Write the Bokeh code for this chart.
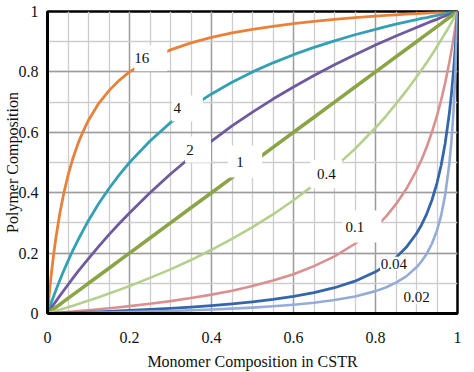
from bokeh.plotting import figure
from bokeh.models import ColumnDataSource, FixedTicker
from bokeh.embed import file_html
from bokeh.resources import INLINE
from bokeh.core.properties import value

# ---- data ----
monomer_x = [0, 0.005, 0.01, 0.015, 0.02, 0.03, 0.04, 0.05, 0.0625, 0.075, 0.0875, 0.1,
             0.125, 0.15, 0.175, 0.2, 0.25, 0.3, 0.35, 0.4, 0.45, 0.5, 0.55, 0.6, 0.65,
             0.7, 0.75, 0.8, 0.825, 0.85, 0.875, 0.9, 0.9125, 0.925, 0.9375, 0.95, 0.96,
             0.97, 0.98, 0.985, 0.99, 0.995, 1]
poly_16 = [0, 0.074, 0.139, 0.196, 0.246, 0.331, 0.4, 0.457, 0.516, 0.565, 0.605, 0.64,
           0.696, 0.738, 0.772, 0.8, 0.842, 0.873, 0.896, 0.914, 0.929, 0.941, 0.951, 0.96,
           0.967, 0.974, 0.98, 0.985, 0.987, 0.989, 0.991, 0.993, 0.994, 0.995, 0.996,
           0.997, 0.997, 0.998, 0.999, 0.999, 0.999, 1.0, 1]
poly_4 = [0, 0.0197, 0.0388, 0.0574, 0.0755, 0.11, 0.143, 0.174, 0.211, 0.245, 0.277, 0.308,
          0.364, 0.414, 0.459, 0.5, 0.571, 0.632, 0.683, 0.727, 0.766, 0.8, 0.83, 0.857,
          0.881, 0.903, 0.923, 0.941, 0.95, 0.958, 0.966, 0.973, 0.977, 0.98, 0.984,
          0.987, 0.99, 0.992, 0.995, 0.996, 0.997, 0.999, 1]
poly_2 = [0, 0.00995, 0.0198, 0.0296, 0.0392, 0.0583, 0.0769, 0.0952, 0.118, 0.14, 0.161,
          0.182, 0.222, 0.261, 0.298, 0.333, 0.4, 0.462, 0.519, 0.571, 0.621, 0.667, 0.71,
          0.75, 0.788, 0.824, 0.857, 0.889, 0.904, 0.919, 0.933, 0.947, 0.954, 0.961,
          0.968, 0.974, 0.98, 0.985, 0.99, 0.992, 0.995, 0.9975, 1]
poly_1 = [0, 0.005, 0.01, 0.015, 0.02, 0.03, 0.04, 0.05, 0.0625, 0.075, 0.0875, 0.1,
          0.125, 0.15, 0.175, 0.2, 0.25, 0.3, 0.35, 0.4, 0.45, 0.5, 0.55, 0.6, 0.65,
          0.7, 0.75, 0.8, 0.825, 0.85, 0.875, 0.9, 0.9125, 0.925, 0.9375, 0.95, 0.96,
          0.97, 0.98, 0.985, 0.99, 0.995, 1]
poly_04 = [0, 0.002, 0.004, 0.00605, 0.0081, 0.0122, 0.0164, 0.0206, 0.026, 0.0314, 0.0369,
           0.0426, 0.0541, 0.0659, 0.0782, 0.0909, 0.118, 0.146, 0.177, 0.211, 0.247, 0.286,
           0.328, 0.375, 0.426, 0.483, 0.545, 0.615, 0.653, 0.694, 0.737, 0.783, 0.807,
           0.831, 0.857, 0.884, 0.906, 0.928, 0.951, 0.963, 0.975, 0.988, 1]
poly_01 = [0, 0.0005, 0.001, 0.0015, 0.002, 0.0031, 0.0041, 0.0052, 0.0066, 0.008, 0.0095,
           0.011, 0.0141, 0.0173, 0.0208, 0.0244, 0.0323, 0.0411, 0.0511, 0.0625, 0.0756,
           0.0909, 0.109, 0.13, 0.157, 0.189, 0.231, 0.286, 0.32, 0.362, 0.412, 0.474, 0.51,
           0.552, 0.6, 0.655, 0.706, 0.764, 0.831, 0.868, 0.908, 0.952, 1]
poly_004 = [0, 0.0002, 0.0004, 0.0006, 0.0008, 0.0012, 0.0017, 0.0021, 0.0027, 0.0032, 0.0038,
            0.0044, 0.0057, 0.007, 0.0084, 0.0099, 0.0132, 0.0169, 0.0211, 0.026, 0.0317,
            0.0385, 0.0466, 0.0566, 0.0691, 0.0854, 0.107, 0.138, 0.159, 0.185, 0.219, 0.265,
            0.294, 0.33, 0.375, 0.432, 0.49, 0.564, 0.662, 0.724, 0.798, 0.888, 1]
poly_002 = [0, 0.0001, 0.0002, 0.0003, 0.0004, 0.0006, 0.0008, 0.001, 0.0013, 0.0016, 0.0019,
            0.0022, 0.0028, 0.0035, 0.0042, 0.005, 0.0066, 0.0085, 0.0107, 0.0132, 0.0161,
            0.0196, 0.0239, 0.0291, 0.0358, 0.0446, 0.0566, 0.0741, 0.0862, 0.102, 0.123,
            0.153, 0.173, 0.198, 0.231, 0.275, 0.324, 0.393, 0.495, 0.568, 0.664, 0.799, 1]

series_labels = ["16", "4", "2", "1", "0.4", "0.1", "0.04", "0.02"]
series_values = [poly_16, poly_4, poly_2, poly_1, poly_04, poly_01, poly_004, poly_002]

# where each curve label sits (data coordinates)
label_x = [0.252, 0.341, 0.367, 0.482, 0.68, 0.767, 0.845, 0.9]
label_y = [0.845, 0.679, 0.543, 0.503, 0.462, 0.288, 0.165, 0.054]

x_ticks = [0, 0.2, 0.4, 0.6, 0.8, 1]
x_tick_labels = ["0", "0.2", "0.4", "0.6", "0.8", "1"]
y_ticks = [0, 0.2, 0.4, 0.6, 0.8, 1]
y_tick_labels = ["0", "0.2", "0.4", "0.6", "0.8", "1"]
x_title = "Monomer Composition in CSTR"
y_title = "Polymer Composition"

# ---- styles ----
colors = ["#E8823A", "#33A0B4", "#6F5A9E", "#8BA446", "#B5CF8C", "#DB9090", "#3566AA", "#95ACD8"]
widths = [2.8, 2.8, 2.8, 3.6, 2.6, 2.6, 2.8, 2.6]
box_w = [33, 31, 26, 34, 32, 39, 28, 28]
box_h = [26, 26, 26, 32, 28, 32, 14, 14]
text_dx = [-9, -10, -8, -5, 0, -7, 0, 0]
SERIF = "'Liberation Serif', 'DejaVu Serif', serif"
TICK_FONT = "Times"

p = figure(width=474, height=372, x_range=(0, 1), y_range=(0, 1),
           output_backend="svg", toolbar_location=None,
           x_axis_label=x_title, y_axis_label=y_title,
           min_border_left=42, min_border_right=17, min_border_top=11, min_border_bottom=59)
p.background_fill_color = "white"
p.border_fill_color = "white"
p.outline_line_color = "black"
p.outline_line_width = 2.5

minor_x = [i / 20 for i in range(21)]
minor_y = [i / 10 for i in range(11)]
p.xaxis.ticker = FixedTicker(ticks=x_ticks, minor_ticks=minor_x)
p.yaxis.ticker = FixedTicker(ticks=y_ticks, minor_ticks=minor_y)
p.xaxis.major_label_overrides = dict(zip(x_ticks, x_tick_labels))
p.yaxis.major_label_overrides = dict(zip(y_ticks, y_tick_labels))
for ax in (p.xaxis, p.yaxis):
    ax.axis_line_color = "black"
    ax.axis_line_width = 3
    ax.major_tick_line_color = None
    ax.minor_tick_line_color = None
    ax.major_tick_out = 0
    ax.major_tick_in = 0
    ax.major_label_text_font = TICK_FONT
    ax.major_label_text_font_size = "16px"
    ax.major_label_text_color = "#111111"
    ax.axis_label_text_font = SERIF
    ax.axis_label_text_font_size = "16px"
    ax.axis_label_text_font_style = "normal"
    ax.axis_label_text_color = "#111111"
p.xaxis.major_label_standoff = 14
p.xaxis.axis_label_standoff = 7
p.yaxis.major_label_standoff = 5
p.yaxis.axis_label_standoff = -5

for g in (p.xgrid, p.ygrid):
    g.grid_line_color = "#9c9c9c"
    g.grid_line_width = 1.4
    g.minor_grid_line_color = "#cdcdcd"
    g.minor_grid_line_width = 1.3

src = ColumnDataSource(dict(x=monomer_x, **{f"s{i}": v for i, v in enumerate(series_values)}))
for i, name in enumerate(series_labels):
    p.line("x", f"s{i}", source=src, line_color=colors[i], line_width=widths[i],
           line_join="round")

lab_src = ColumnDataSource(dict(x=label_x, y=label_y, text=series_labels,
                                w=box_w, h=box_h, dx=text_dx))
p.rect("x", "y", width="w", height="h", width_units="screen", height_units="screen",
       source=lab_src, fill_color="white", line_color=None)
p.text("x", "y", text="text", x_offset="dx", source=lab_src,
       text_font=value(TICK_FONT), text_font_size="15px", text_color="#111111",
       text_align="center", text_baseline="middle")

open("out.html", "w").write(file_html(p, INLINE))
